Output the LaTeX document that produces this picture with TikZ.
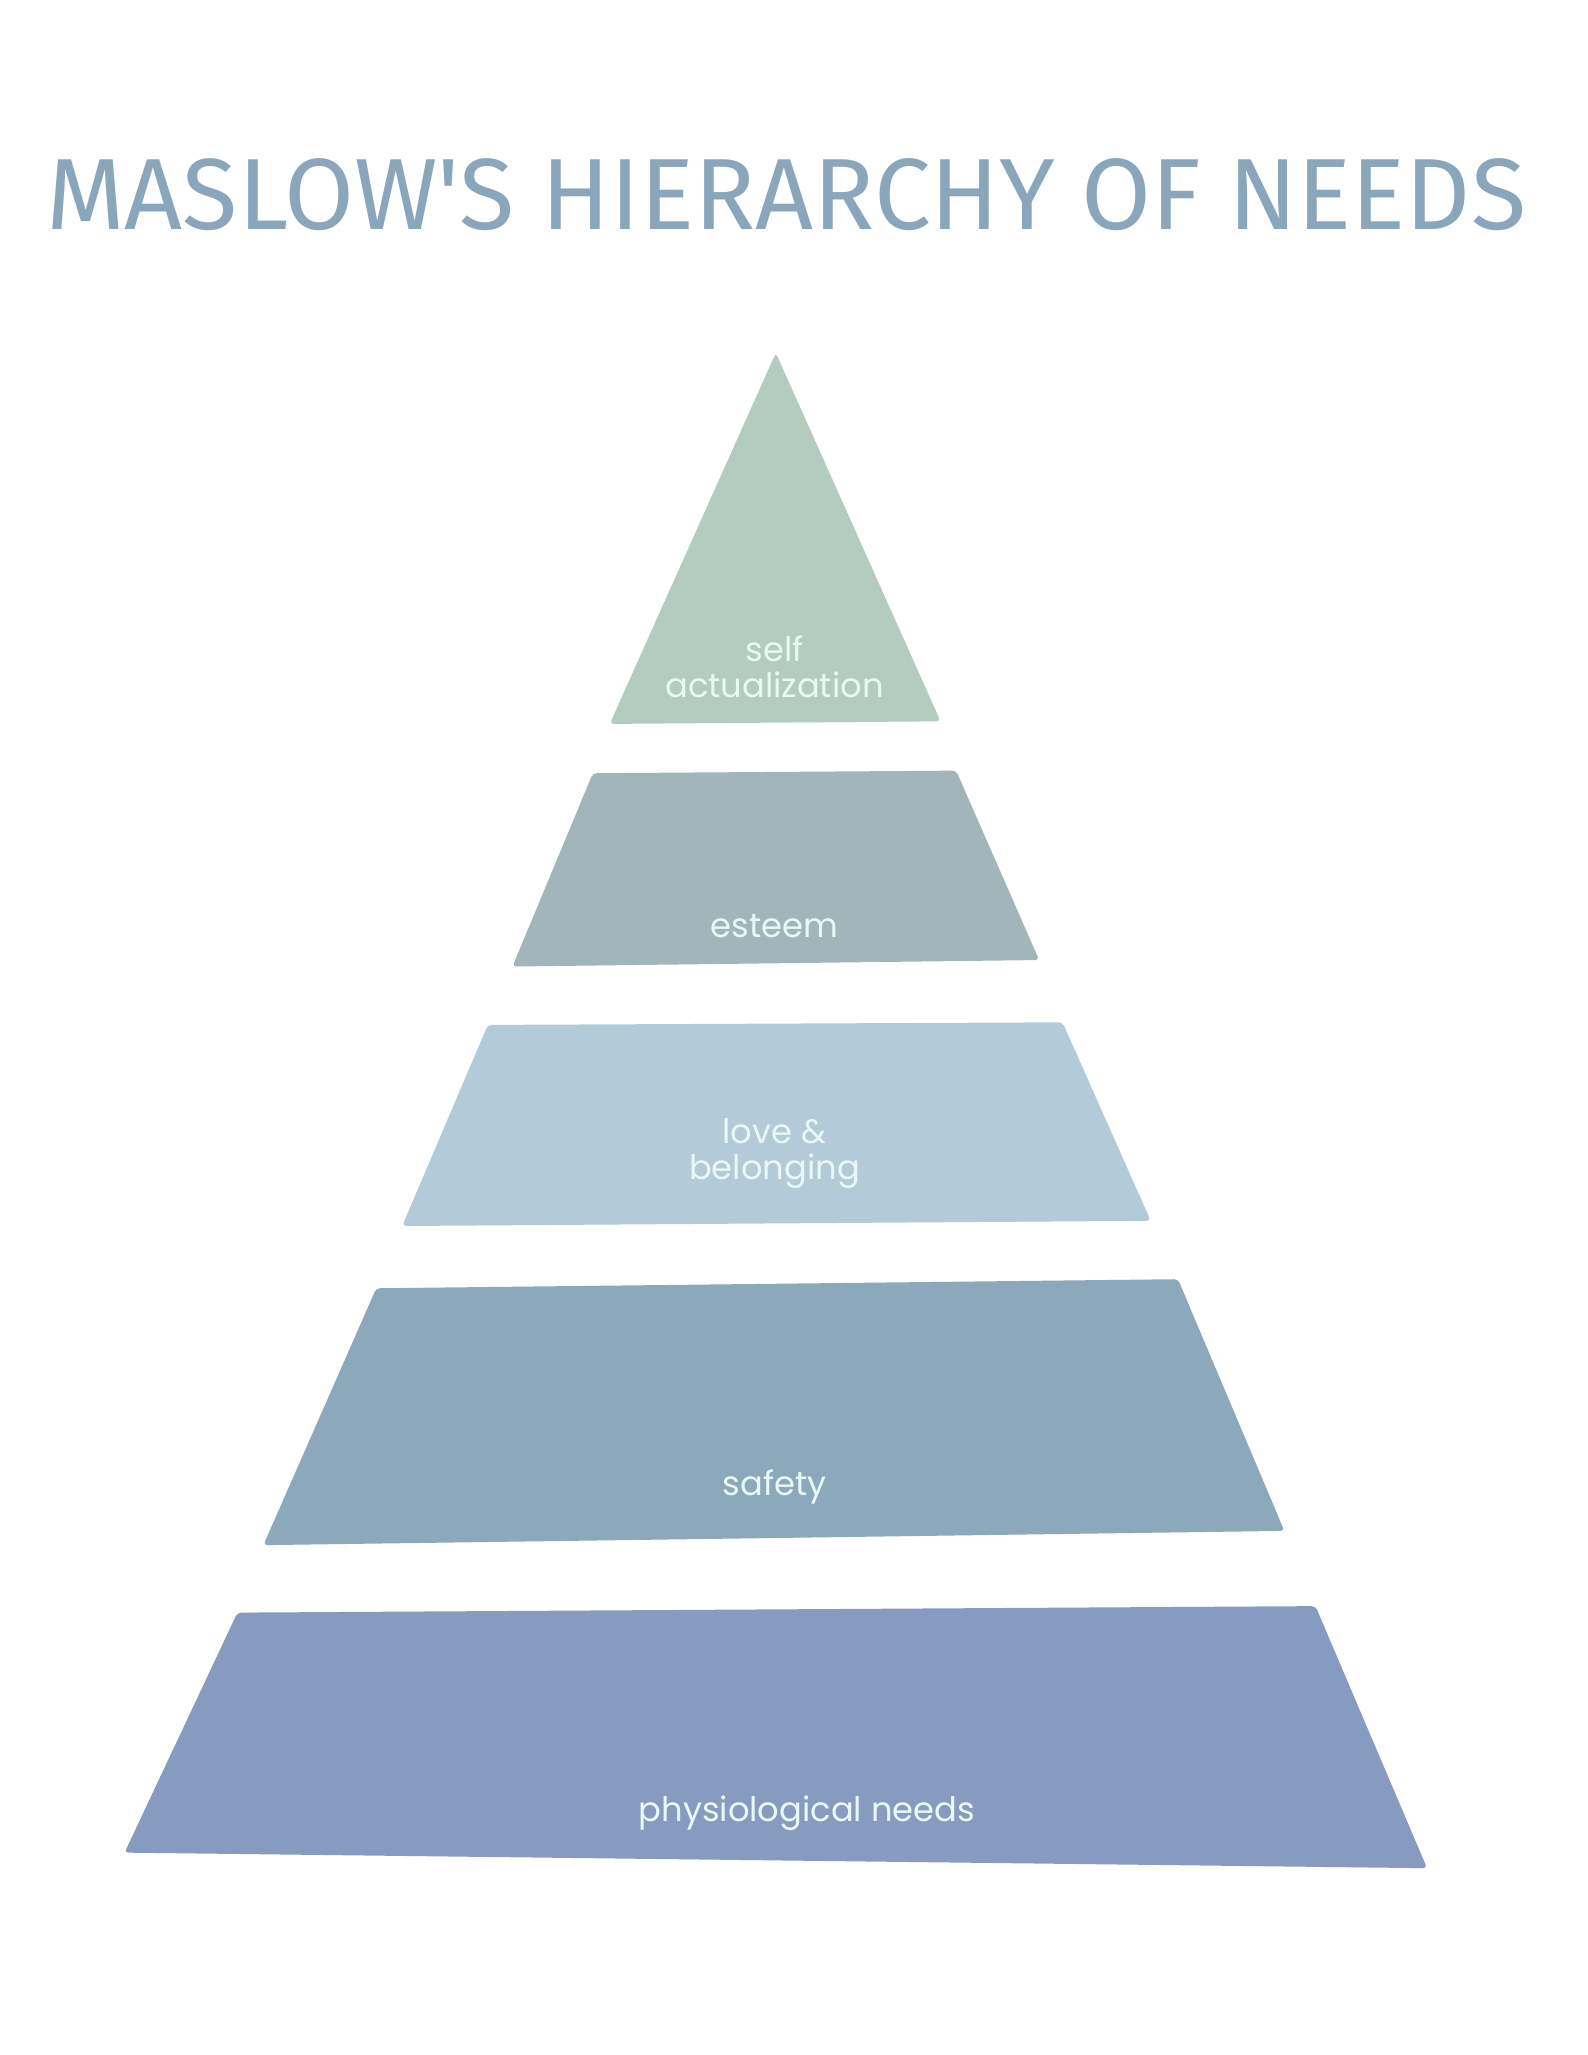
\documentclass[tikz,border=0pt]{standalone}
\usepackage{fontspec}
\setmainfont{Poppins}
\newfontfamily\titlefont{Fira Sans}
\definecolor{cTop}{HTML}{B4CBBF}
\definecolor{cEst}{HTML}{A2B5BA}
\definecolor{cLove}{HTML}{B3CBD8}
\definecolor{cSafe}{HTML}{8CA8BB}
\definecolor{cPhys}{HTML}{879BC1}
\definecolor{cTxt}{HTML}{E8F8F4}
\definecolor{cTitle}{HTML}{8AA6BB}
\begin{document}
\begin{tikzpicture}[x=1pt,y=-1pt,
  tier/.style={rounded corners=3pt},
  lab/.style={text=cTxt,font=\fontsize{26}{28}\selectfont,align=center,inner sep=0pt}]
\useasboundingbox[fill=white] (0,0) rectangle (1224,1584);
\node[text=cTitle,font=\titlefont\fontsize{78}{80}\selectfont,inner sep=0pt] (title) at (606,150) {MASLOW'S HIERARCHY OF NEEDS};
\fill[tier,cTop] (598,272) -- (725,556) -- (470,558) -- cycle;
\fill[tier,cEst] (457,596) -- (737,594) -- (801,740) -- (395,745) -- cycle;
\fill[tier,cLove] (376,790) -- (819,788) -- (887,941) -- (310,945) -- cycle;
\fill[tier,cSafe] (290,993) -- (908,986) -- (990,1180) -- (203,1191) -- cycle;
\fill[tier,cPhys] (183,1243) -- (1014,1238) -- (1100,1440) -- (96,1428) -- cycle;
\node[lab] (l1) at (597,514) {self\\actualization};
\node[lab] (l2) at (597,714) {esteem};
\node[lab] (l3) at (597,889) {love \&\\belonging};
\node[lab] (l4) at (597,1146) {safety};
\node[lab] (l5) at (622,1398) {physiological needs};
\end{tikzpicture}
\end{document}
